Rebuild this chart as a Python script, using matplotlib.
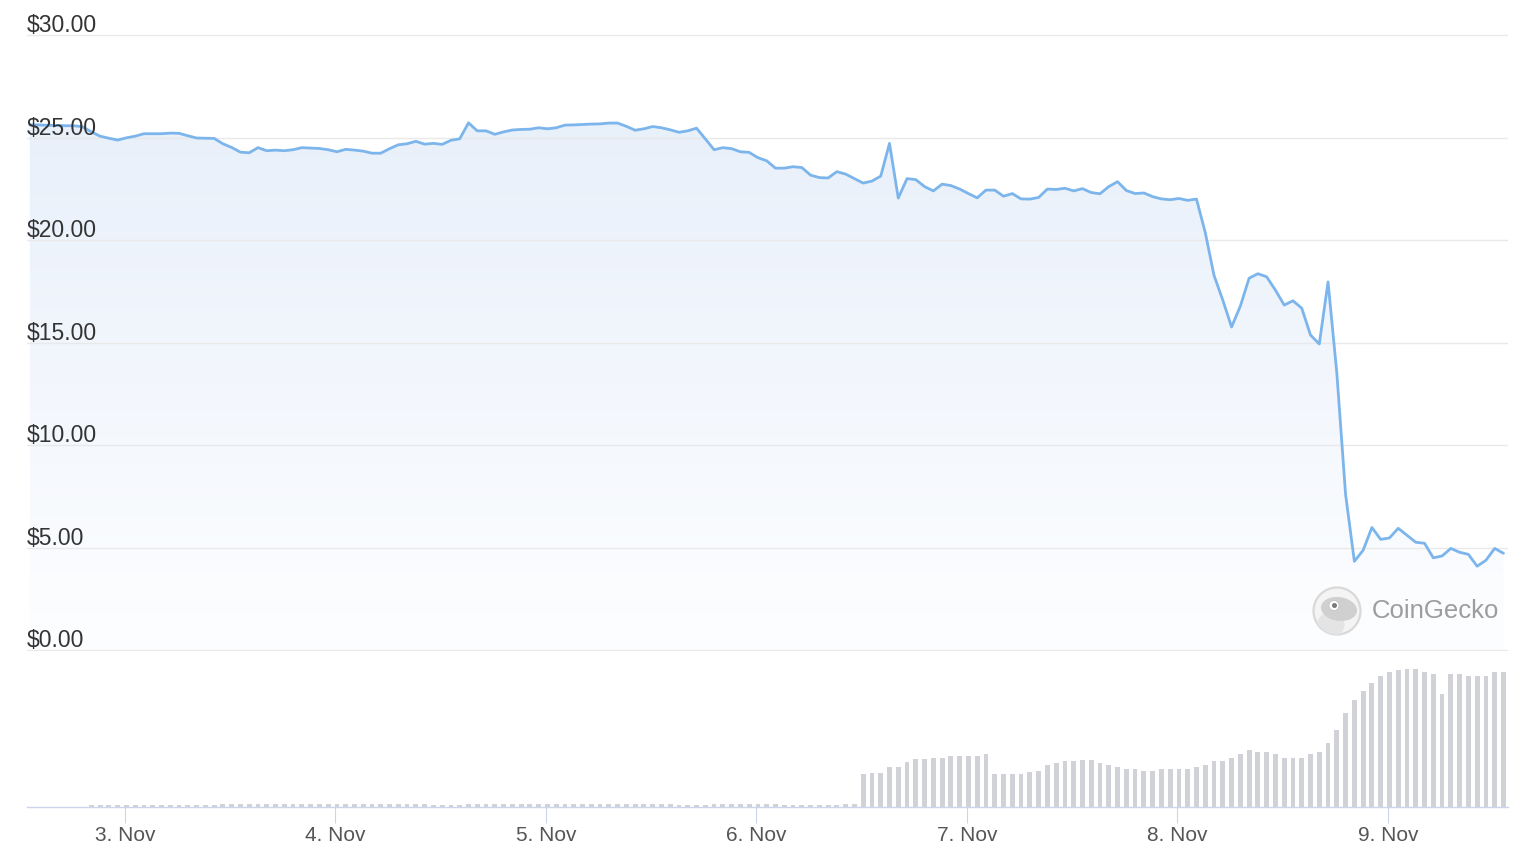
import numpy as np
import pandas as pd
import matplotlib
matplotlib.use("Agg")
import matplotlib.pyplot as plt
import matplotlib.dates as mdates
from matplotlib.patches import Circle, Ellipse
from matplotlib.colors import LinearSegmentedColormap
from matplotlib.ticker import FuncFormatter

plt.rcParams['font.family'] = ['Liberation Sans', 'DejaVu Sans']

# ---------------- data (hourly, 2 Nov 13:10 -> 9 Nov 13:10) ----------------
times = pd.date_range('2022-11-02 13:10', '2022-11-09 13:10', freq='h')

price = [
    25.63, 25.63, 25.61, 25.61, 25.59, 25.59, 25.54, 25.29, 25.08, 24.98, 24.89, 25.00,
    25.08, 25.20, 25.20, 25.20, 25.23, 25.22, 25.10, 24.99, 24.98, 24.97, 24.71, 24.53,
    24.30, 24.27, 24.52, 24.37, 24.40, 24.37, 24.42, 24.52, 24.50, 24.48, 24.42, 24.32,
    24.44, 24.40, 24.35, 24.25, 24.25, 24.47, 24.66, 24.71, 24.83, 24.69, 24.73, 24.68,
    24.88, 24.95, 25.73, 25.34, 25.34, 25.17, 25.29, 25.38, 25.41, 25.42, 25.49, 25.44,
    25.49, 25.62, 25.63, 25.65, 25.67, 25.68, 25.72, 25.72, 25.56, 25.37, 25.44, 25.55,
    25.49, 25.39, 25.27, 25.34, 25.47, 24.95, 24.42, 24.52, 24.47, 24.32, 24.29, 24.03,
    23.88, 23.52, 23.52, 23.59, 23.55, 23.18, 23.06, 23.04, 23.35, 23.23, 23.01, 22.79,
    22.89, 23.13, 24.73, 22.06, 23.01, 22.96, 22.62, 22.41, 22.74, 22.67, 22.50, 22.28,
    22.07, 22.45, 22.45, 22.15, 22.28, 22.02, 22.01, 22.09, 22.50, 22.48, 22.54, 22.41,
    22.52, 22.33, 22.27, 22.62, 22.86, 22.43, 22.28, 22.31, 22.13, 22.02, 21.98, 22.04,
    21.95, 22.01, 20.38, 18.29, 17.08, 15.77, 16.79, 18.15, 18.37, 18.22, 17.57, 16.84,
    17.05, 16.69, 15.38, 14.94, 17.97, 13.53, 7.60, 4.34, 4.88, 5.99, 5.41, 5.48,
    5.95, 5.61, 5.27, 5.22, 4.51, 4.60, 4.97, 4.78, 4.68, 4.10, 4.39, 4.97,
    4.73,
]

# volume in $M (relative scale)
volume = [
    0, 0, 0, 0, 0, 0, 0, 13, 13, 13, 13, 13,
    13, 13, 13, 13, 13, 13, 13, 13, 13, 13, 30, 30,
    30, 30, 30, 30, 30, 30, 30, 30, 30, 30, 30, 30,
    30, 30, 30, 30, 30, 30, 30, 30, 30, 30, 13, 13,
    13, 13, 30, 30, 30, 30, 30, 30, 30, 30, 30, 30,
    30, 30, 30, 30, 30, 30, 30, 30, 30, 30, 30, 30,
    30, 30, 13, 13, 13, 13, 30, 30, 30, 30, 30, 30,
    30, 30, 13, 13, 13, 13, 13, 13, 13, 30, 30, 324,
    340, 340, 397, 397, 450, 473, 473, 490, 490, 507, 507, 507,
    507, 523, 324, 323, 323, 323, 343, 360, 413, 433, 453, 453,
    470, 470, 433, 413, 397, 377, 377, 360, 360, 377, 377, 377,
    377, 397, 413, 453, 453, 490, 527, 563, 543, 543, 527, 490,
    490, 490, 527, 543, 640, 767, 933, 1063, 1160, 1233, 1307, 1343,
    1363, 1380, 1380, 1343, 1327, 1123, 1327, 1327, 1307, 1307, 1307, 1343,
    1343,
]

price_ticks = [0, 5, 10, 15, 20, 25, 30]

n = min(len(times), len(price), len(volume))
times = times[:n]
price = np.array(price[:n])
volume = np.array(volume[:n])

# ---------------- layout ----------------
W, H = 1536, 864
fig = plt.figure(figsize=(W / 100, H / 100), dpi=100)
fig.patch.set_facecolor('white')


def rect(x0, y0, x1, y1):
    return [x0 / W, 1 - y1 / H, (x1 - x0) / W, (y1 - y0) / H]


ax = fig.add_axes(rect(27, 34.3, 1508, 651.3))
axv = fig.add_axes(rect(27, 660, 1508, 806.7))

t_left = pd.Timestamp('2022-11-02 12:50')
t_right = pd.Timestamp('2022-11-09 13:41')

# ---------------- price area ----------------
line_color = '#7cb5ec'
poly = ax.fill_between(times, price, 0, facecolor='none', edgecolor='none')
x0n, x1n = mdates.date2num(t_left), mdates.date2num(t_right)
grad = np.linspace(0, 1, 256).reshape(-1, 1)
cmap = LinearSegmentedColormap.from_list('fade', ['#fdfeff', '#f3f7fd', '#e8f0fa'])
im = ax.imshow(grad, extent=[x0n, x1n, 0, 26], origin='lower', aspect='auto',
               cmap=cmap, zorder=1, interpolation='bilinear')
im.set_clip_path(poly.get_paths()[0], transform=ax.transData)

ax.plot(times, price, color=line_color, lw=2.0, solid_joinstyle='round',
        solid_capstyle='round', zorder=3)

ax.set_xlim(t_left, t_right)
ax.set_ylim(-0.05, 30.05)
ax.set_yticks(price_ticks)
ax.set_axisbelow(False)
ax.yaxis.grid(True, color='#e9e9e9', lw=1.0)
ax.xaxis.grid(False)
ax.tick_params(left=False, labelleft=False, bottom=False, labelbottom=False)
for s in ax.spines.values():
    s.set_visible(False)
ax.patch.set_alpha(0)

for v in price_ticks:
    ax.annotate('\\$' + f'{v:.2f}', xy=(0, v), xycoords=('axes fraction', 'data'),
                xytext=(0, 3), textcoords='offset pixels', ha='left', va='baseline',
                fontsize=16.5, color='#333333', zorder=5, annotation_clip=False)

# ---------------- volume ----------------
axv.bar(times, volume, width=0.55 / 24, color='#d0d2d7', align='center', zorder=2)
axv.set_xlim(t_left, t_right)
axv.set_ylim(0, 1467)
axv.patch.set_alpha(0)
for k in ['top', 'left', 'right']:
    axv.spines[k].set_visible(False)
axv.spines['bottom'].set_color('#ccd6eb')
axv.spines['bottom'].set_linewidth(1.0)
axv.set_yticks([])
axv.xaxis.set_major_locator(mdates.DayLocator())
axv.xaxis.set_major_formatter(FuncFormatter(
    lambda x, pos: f"{mdates.num2date(x).day}. {mdates.num2date(x).strftime('%b')}"))
axv.tick_params(axis='x', length=11.5, width=0.8, color='#ccd6eb', pad=2.5,
                labelsize=15, labelcolor='#555555')

# ---------------- watermark ----------------
axl = fig.add_axes(rect(1312, 586, 1362, 636))
axl.set_xlim(-1, 1)
axl.set_ylim(-1, 1)
axl.set_aspect('equal')
axl.axis('off')
base = Circle((0, 0), 0.94, fc='#f4f4f4', ec='#d9d9d9', lw=1.6, zorder=1)
axl.add_patch(base)
body = Ellipse((-0.25, -0.55), 1.1, 1.0, fc='#e4e4e4', ec='none', zorder=2)
head = Ellipse((0.08, 0.08), 1.45, 0.95, angle=-8, fc='#d0d0d0', ec='none', zorder=3)
eye = Circle((-0.12, 0.22), 0.2, fc='white', ec='#c0c0c0', lw=0.5, zorder=4)
pupil = Circle((-0.1, 0.22), 0.1, fc='#7a7a7a', ec='none', zorder=5)
for p in (body, head, eye, pupil):
    axl.add_patch(p)
    p.set_clip_path(base)

fig.text(1372 / W, 1 - 611 / H, 'CoinGecko', ha='left', va='center',
         fontsize=18.5, color='#9d9d9d')

fig.savefig('out.png', dpi=100, facecolor='white')
